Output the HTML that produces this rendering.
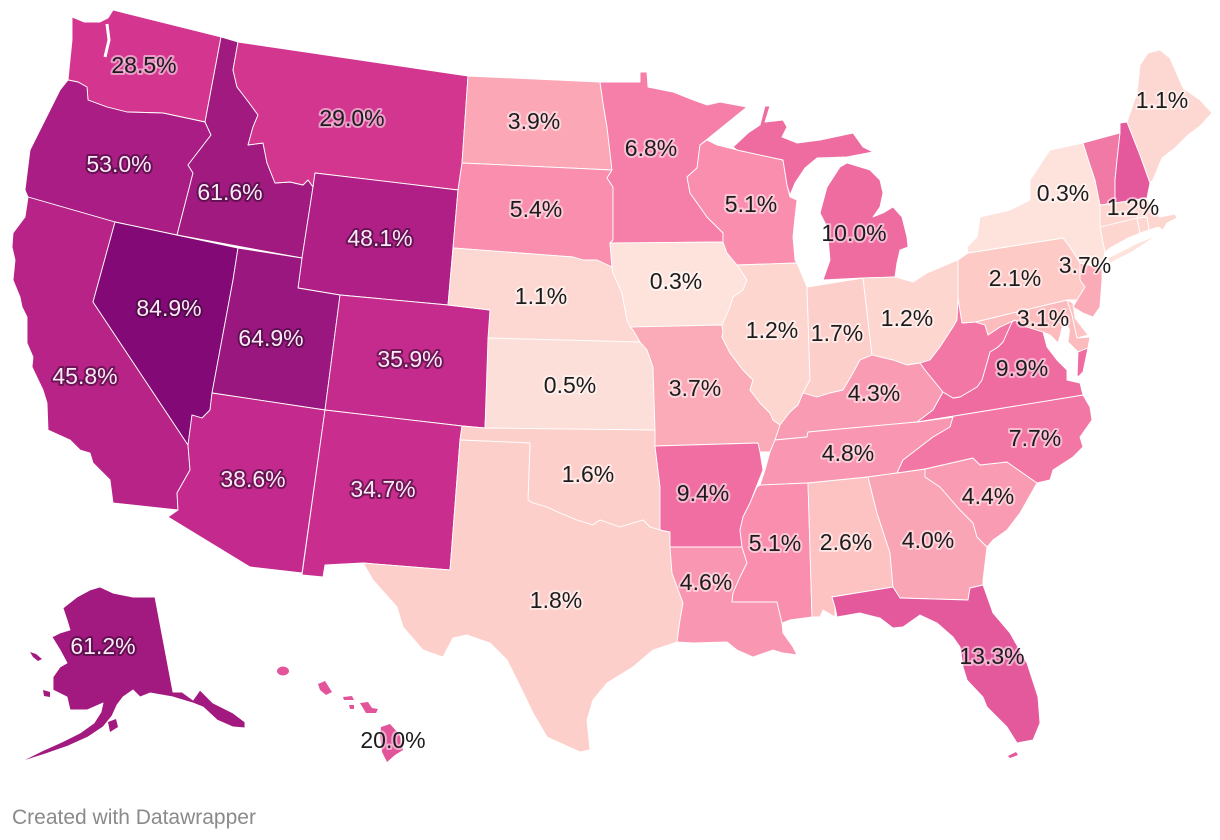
<!DOCTYPE html>
<html><head><meta charset="utf-8"><style>
html,body{margin:0;padding:0;background:#fff;}
svg{display:block;}
.s{stroke:#fff;stroke-width:0.9;stroke-linejoin:round;}
.d{font-family:"Liberation Sans",sans-serif;font-size:23px;fill:#1c1c1c;stroke:rgba(255,255,255,0.5);stroke-width:4px;paint-order:stroke;stroke-linejoin:round;text-anchor:middle;}
.w{font-family:"Liberation Sans",sans-serif;font-size:23px;fill:#fbeaf6;stroke:rgba(60,10,55,0.6);stroke-width:4px;paint-order:stroke;stroke-linejoin:round;text-anchor:middle;}
</style></head><body>
<svg width="1220" height="840" viewBox="0 0 1220 840" xmlns="http://www.w3.org/2000/svg">
<g class="s">
<polygon fill="#d4368f" points="72,17 84,22 100,22 108,18 113,10 221,37 205,122 163,113 127,112 107,107 88,100 87,87 78,82 68,80 70,60 72,40"/>
<polygon fill="#aa1d84" points="28,197 25,190 30,150 45,120 60,90 68,80 78,82 87,87 88,100 107,107 127,112 163,113 205,122 211,135 188,165 193,173 177,235 115,222"/>
<polygon fill="#b82388" points="28,197 115,222 93,302 188,445 190,470 177,493 178,510 113,503 110,480 93,463 90,453 80,450 70,440 48,430 47,403 43,390 32,367 33,357 27,343 27,317 22,307 20,297 13,280 15,260 12,247 13,233 25,217"/>
<polygon fill="#a01a80" points="221,37 238,42 233,70 237,87 247,100 258,115 253,127 248,145 263,143 267,163 275,183 290,182 303,185 308,180 313,187 302,258 177,235 193,173 188,165 211,135 205,122"/>
<polygon fill="#d3368f" points="238,42 468,76 462,163 458,190 315,173 313,187 308,180 303,185 290,182 275,183 267,163 263,143 248,145 253,127 258,115 247,100 237,87 233,70"/>
<polygon fill="#b01f86" points="315,173 458,190 448,305 340,295 298,288 302,258 313,187"/>
<polygon fill="#830a76" points="115,222 238,248 233,280 212,393 210,410 202,418 192,415 188,445 93,302"/>
<polygon fill="#9b1780" points="238,248 302,258 298,288 340,295 325,410 212,393 233,280"/>
<polygon fill="#c42a8d" points="212,393 325,410 302,573 250,567 168,517 178,510 177,493 190,470 188,445 192,415 202,418 210,410"/>
<polygon fill="#c52b8d" points="340,295 448,305 490,310 485,428 462,426 325,410"/>
<polygon fill="#c92d8e" points="325,410 462,426 460,440 450,570 363,563 325,565 323,577 302,575"/>
<polygon fill="#fba7b6" points="468,76 600,82 603,103 607,127 612,170 462,163"/>
<polygon fill="#f98eae" points="462,163 612,170 607,178 613,187 613,240 610,243 612,267 597,260 583,260 573,257 453,248 458,190"/>
<polygon fill="#fdd8d2" points="453,248 573,257 583,260 597,260 612,267 613,273 622,293 627,320 633,330 640,342 488,338 490,310 448,305"/>
<polygon fill="#fddfd9" points="488,338 640,342 647,350 653,367 655,430 485,428"/>
<polygon fill="#fdcfca" points="462,426 485,428 655,430 655,446 660,487 660,530 650,527 643,520 620,527 600,520 593,525 577,520 560,513 547,507 533,503 528,500 530,443 460,440"/>
<polygon fill="#fdcfca" points="460,440 530,443 528,500 533,503 547,507 560,513 577,520 593,525 600,520 620,527 643,520 650,527 660,530 670,532 670,547 672,573 683,603 680,620 677,642 653,650 633,667 607,683 593,700 587,720 590,750 580,752 547,737 533,713 517,680 507,660 490,643 467,635 453,638 443,657 423,650 403,627 397,607 373,580 363,563 450,570"/>
<polygon fill="#f57fa8" points="600,82 640,82 640,72 647,72 648,87 673,92 693,100 707,105 720,102 747,107 700,145 697,168 687,177 690,193 707,217 723,233 723,242 610,243 613,240 613,187 607,178 612,170 607,127 603,103"/>
<polygon fill="#fee2dc" points="610,243 723,242 727,253 737,265 747,280 743,290 733,297 730,307 722,325 630,327 627,320 622,293 613,273 612,267"/>
<polygon fill="#fbabb7" points="630,327 722,325 723,332 722,337 730,353 743,370 753,380 750,390 760,403 770,413 773,420 780,425 775,440 770,452 760,452 758,443 655,446 655,430 653,367 647,350 640,342 633,330"/>
<polygon fill="#f06ea1" points="655,446 758,443 760,452 763,470 757,485 750,503 743,517 740,530 742,547 670,547 670,532 660,530 660,487"/>
<polygon fill="#f996b1" points="670,547 742,547 747,563 740,577 733,593 732,602 777,602 782,623 783,633 793,647 797,655 783,653 773,650 753,657 737,650 727,642 693,643 677,642 680,620 683,603 672,573"/>
<polygon fill="#f98eae" points="700,145 707,140 717,145 737,150 783,160 787,185 790,197 797,200 795,217 793,237 795,260 797,263 737,265 727,253 723,242 723,233 707,217 690,193 687,177 697,168"/>
<polygon fill="#fdd6d0" points="737,265 797,263 807,287 810,380 803,393 798,405 790,412 780,425 773,420 770,413 760,403 750,390 753,380 743,370 730,353 722,337 723,332 722,325 730,307 733,297 743,290 747,280"/>
<polygon fill="#ef6ca0" points="733,147 748,133 760,125 765,106 770,106 765,122 783,120 787,127 782,137 797,143 820,140 853,133 863,147 873,152 847,157 817,158 805,168 795,183 790,195 787,185 783,160 737,150"/>
<polygon fill="#ef6ca0" points="823,280 830,260 827,227 820,213 827,187 840,167 847,163 860,167 870,170 880,180 883,193 880,207 873,217 883,213 893,207 902,217 907,237 908,247 900,250 897,263 895,277 863,278"/>
<polygon fill="#fdcfca" points="807,287 863,278 872,355 860,360 853,373 843,390 830,393 817,397 803,393 810,380"/>
<polygon fill="#fdd6d0" points="863,278 895,277 913,282 927,273 953,262 958,260 958,298 957,320 953,327 940,347 930,360 920,363 907,365 893,360 880,357 872,355"/>
<polygon fill="#f99bb3" points="803,393 817,397 830,393 843,390 853,373 860,360 872,355 880,357 893,360 907,365 920,363 925,370 943,392 933,410 917,422 808,432 807,437 775,440 780,425 790,412 798,405"/>
<polygon fill="#f996b1" points="775,440 807,437 808,432 917,422 953,417 950,427 933,437 920,447 903,460 897,473 868,477 808,483 760,485 765,470 770,452"/>
<polygon fill="#f98eae" points="760,485 808,483 812,617 790,620 782,623 777,602 732,602 733,593 740,577 747,563 742,547 740,530 743,517 750,503 757,487"/>
<polygon fill="#fdc2c2" points="808,483 868,477 877,513 890,553 893,587 832,597 835,607 835,617 823,610 820,617 812,617"/>
<polygon fill="#faa5b5" points="868,477 897,473 925,469 925,477 940,487 960,510 973,523 977,537 987,547 983,580 983,585 970,588 968,600 900,598 893,587 890,553 877,513"/>
<polygon fill="#e4589c" points="832,597 893,587 900,598 968,600 970,588 983,585 993,613 1010,633 1027,663 1038,697 1040,723 1033,740 1017,743 1007,727 987,707 983,697 967,680 963,667 960,647 953,637 937,623 920,615 903,627 893,628 880,618 860,613 837,617 835,607"/>
<polygon fill="#e4589c" stroke="none" points="1008,756 1016,752 1018,755 1010,758"/>
<polygon fill="#f99bb3" points="925,469 973,458 980,465 1007,462 1037,483 1020,513 1007,530 993,540 987,547 977,537 973,523 960,510 940,487 925,477"/>
<polygon fill="#f377a4" points="917,422 1083,395 1090,407 1092,420 1080,437 1083,447 1073,457 1053,470 1050,480 1037,483 1007,462 980,465 973,458 925,469 897,473 903,460 920,447 933,437 950,427 953,417"/>
<polygon fill="#ef6ca0" points="1015,320 1027,327 1043,332 1047,347 1057,360 1067,370 1067,380 1080,383 1083,395 917,422 933,410 943,392 953,398 960,397 977,387 982,380 990,352 998,347 1003,342 1012,322"/>
<polygon fill="#f377a4" points="958,298 962,323 975,322 985,325 988,335 1000,327 1015,320 1012,322 1003,342 998,347 990,352 982,380 977,387 960,397 953,398 943,392 925,370 920,363 930,360 940,347 953,327 957,320"/>
<polygon fill="#fcbcbd" points="975,322 1067,300 1072,315 1077,338 1090,337 1088,348 1078,352 1068,342 1062,330 1058,343 1050,335 1043,332 1027,327 1015,320 1000,327 988,335 985,325"/>
<polygon fill="#fcc3c2" points="1067,300 1073,303 1075,318 1088,335 1077,338 1072,315"/>
<polygon fill="#ef6ca0" points="1078,352 1088,348 1083,372 1077,378"/>
<polygon fill="#fdcac6" points="958,260 968,253 1063,238 1070,247 1080,263 1080,280 1085,287 1077,300 1067,300 975,322 962,323 958,298"/>
<polygon fill="#fbabb7" points="1080,263 1102,268 1102,280 1100,307 1093,317 1083,313 1073,307 1077,300 1085,287 1080,280"/>
<polygon fill="#fee2dc" points="968,253 967,247 977,237 980,217 1010,210 1030,200 1030,180 1050,150 1083,143 1090,165 1095,180 1100,205 1100,227 1105,252 1103,262 1100,265 1080,263 1070,247 1063,238"/>
<polygon fill="#fee2dc" points="1108,258 1140,242 1158,235 1132,252 1110,263"/>
<polygon fill="#fdd6d0" points="1100,227 1137,218 1140,233 1128,238 1110,248 1105,252"/>
<polygon fill="#fdd6d0" points="1137,218 1147,217 1149,230 1140,233"/>
<polygon fill="#fdd6d0" points="1100,205 1115,203 1147,198 1153,210 1160,217 1175,214 1177,218 1167,223 1163,230 1158,227 1149,230 1147,217 1137,218 1100,227"/>
<polygon fill="#f07aa5" points="1083,143 1120,133 1117,160 1115,180 1115,203 1100,205 1095,180 1090,165"/>
<polygon fill="#e4599c" points="1120,133 1120,123 1127,122 1140,155 1150,183 1147,198 1115,203 1115,180 1117,160"/>
<polygon fill="#fdd8d2" points="1127,122 1137,93 1140,65 1148,53 1160,50 1170,58 1183,88 1200,100 1212,113 1200,126 1188,135 1175,148 1162,158 1153,180 1150,183 1140,155"/>
<!-- AK -->
<polygon fill="#a2197f" points="63,608 77,597 90,590 100,587 113,593 133,597 155,597 173,692 182,692 193,700 200,690 213,703 233,713 245,722 245,728 233,727 217,720 203,707 193,703 173,697 150,693 140,697 133,690 123,697 117,705 112,716 103,727 88,737 68,746 45,754 20,762 42,751 62,742 80,733 94,723 101,712 103,703 87,710 70,710 67,697 53,690 53,677 60,667 67,663 60,650 52,637 60,633 70,630 67,620"/>
<polygon fill="#a2197f" stroke="none" points="30,652 36,654 42,659 38,661 33,657"/>
<polygon fill="#a2197f" stroke="none" points="43,690 50,692 50,697 44,696"/>
<polygon fill="#a2197f" stroke="none" points="108,722 116,719 118,727 110,732"/>
<!-- HI -->
<ellipse fill="#e2559b" stroke="none" cx="283" cy="671" rx="6" ry="4.5"/>
<polygon fill="#e2559b" stroke="none" points="318,684 325,681 332,692 326,695 320,690"/>
<polygon fill="#e2559b" stroke="none" points="343,697 352,696 354,700 344,700"/>
<polygon fill="#e2559b" stroke="none" points="349,705 354,705 354,709 350,709"/>
<polygon fill="#e2559b" stroke="none" points="360,703 368,702 372,708 378,709 376,713 366,713"/>
<polygon fill="#e2559b" stroke="none" points="381,727 390,724 400,735 403,750 395,755 387,762 382,752 380,735"/>
</g>
<path d="M1064,318 L1070,330 L1068,345 L1076,360 L1078,378 L1071,376 L1063,360 L1058,346 L1061,330 Z" fill="#fff"/>
<path d="M107,24 L109,40 L105,57" stroke="#fff" stroke-width="3" fill="none"/>

<text class="d" x="144" y="73">28.5%</text>
<text class="d" x="352" y="126">29.0%</text>
<text class="w" x="119" y="172">53.0%</text>
<text class="w" x="230" y="200">61.6%</text>
<text class="w" x="380" y="246">48.1%</text>
<text class="w" x="169" y="316">84.9%</text>
<text class="w" x="271" y="346">64.9%</text>
<text class="w" x="85" y="384">45.8%</text>
<text class="w" x="410" y="367">35.9%</text>
<text class="w" x="253" y="487">38.6%</text>
<text class="w" x="383" y="497">34.7%</text>
<text class="w" x="103" y="654">61.2%</text>
<text class="d" x="534" y="129">3.9%</text>
<text class="d" x="651" y="156">6.8%</text>
<text class="d" x="536" y="217">5.4%</text>
<text class="d" x="751" y="212">5.1%</text>
<text class="d" x="854" y="241">10.0%</text>
<text class="d" x="541" y="304">1.1%</text>
<text class="d" x="676" y="289">0.3%</text>
<text class="d" x="772" y="338">1.2%</text>
<text class="d" x="837" y="341">1.7%</text>
<text class="d" x="907" y="326">1.2%</text>
<text class="d" x="570" y="393">0.5%</text>
<text class="d" x="695" y="396">3.7%</text>
<text class="d" x="874" y="401">4.3%</text>
<text class="d" x="1022" y="376">9.9%</text>
<text class="d" x="1043" y="326">3.1%</text>
<text class="d" x="1015" y="286">2.1%</text>
<text class="d" x="1085" y="273">3.7%</text>
<text class="d" x="1063" y="201">0.3%</text>
<text class="d" x="1133" y="215">1.2%</text>
<text class="d" x="1162" y="108">1.1%</text>
<text class="d" x="588" y="482">1.6%</text>
<text class="d" x="556" y="608">1.8%</text>
<text class="d" x="703" y="501">9.4%</text>
<text class="d" x="775" y="551">5.1%</text>
<text class="d" x="706" y="590">4.6%</text>
<text class="d" x="848" y="461">4.8%</text>
<text class="d" x="1035" y="446">7.7%</text>
<text class="d" x="988" y="504">4.4%</text>
<text class="d" x="928" y="548">4.0%</text>
<text class="d" x="846" y="550">2.6%</text>
<text class="d" x="992" y="664">13.3%</text>
<text class="d" x="393" y="748">20.0%</text>

<text x="12" y="824" font-family="Liberation Sans, sans-serif" font-size="21" fill="#8a8a8a">Created with Datawrapper</text>
</svg>
</body></html>
